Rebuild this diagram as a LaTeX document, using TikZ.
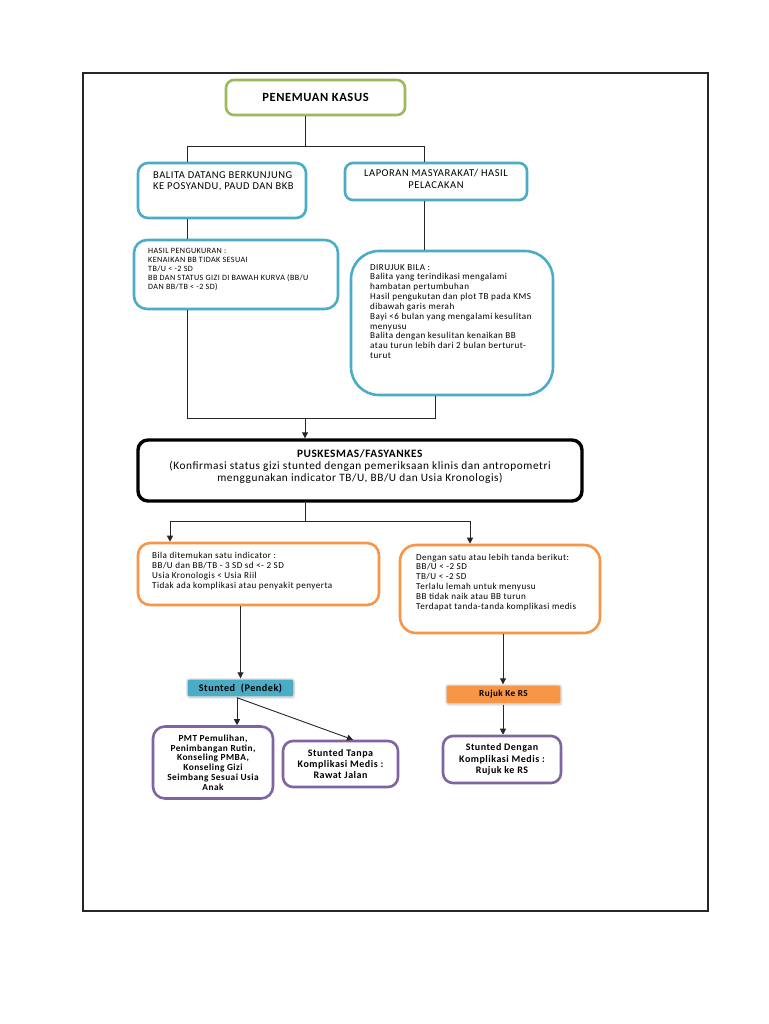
\documentclass[tikz,border=0pt]{standalone}
\usepackage{fontspec}
\setmainfont{Carlito}[LetterSpace=5]
\usetikzlibrary{arrows.meta,shadows}
\definecolor{cgreen}{HTML}{9BBB59}
\definecolor{cblue}{HTML}{4BACC6}
\definecolor{corange}{HTML}{F79646}
\definecolor{cpurple}{HTML}{8064A2}
\newcommand{\fs}[2]{\fontsize{#1}{#2}\selectfont}
\tikzset{
  bx/.style={draw=#1, line width=2.6pt, rounded corners=10pt, inner sep=0pt, align=center},
  txt/.style={inner sep=0pt, align=left, anchor=north west},
  conn/.style={line width=0.9pt, draw=black!85},
  arr/.style={conn, -{Triangle[length=6pt,width=6pt]}},
}
\begin{document}
\begin{tikzpicture}[x=1pt,y=-1pt]
\useasboundingbox (0,0) rectangle (768,1024);
\fill[white] (0,0) rectangle (768,1024);
\node[draw=black!85, line width=1.3pt, minimum width=625pt, minimum height=838pt, inner sep=0pt] (frame) at (395.5,492) {};

% boxes
\node[bx=cgreen, rounded corners=8pt, minimum width=179pt, minimum height=35pt, font=\bfseries\fs{12.5}{14}] (pen) at (315.5,97.5) {PENEMUAN KASUS};
\node[bx=cblue, minimum width=168pt, minimum height=55pt] (bal) at (222,190.5) {};
\node[bx=cblue, rounded corners=8pt, minimum width=182pt, minimum height=37pt] (lap) at (436,181.5) {};
\node[bx=cblue, rounded corners=13pt, minimum width=204pt, minimum height=69pt] (has) at (236,274.5) {};
\node[bx=cblue, rounded corners=28pt, minimum width=202pt, minimum height=144pt] (dir) at (452,323) {};
\node[bx=black, line width=3.4pt, rounded corners=10pt, minimum width=444pt, minimum height=61pt] (pus) at (360,470.5) {};
\node[bx=corange, rounded corners=12pt, minimum width=241pt, minimum height=62pt] (bil) at (258.5,574) {};
\node[bx=corange, rounded corners=16pt, minimum width=200pt, minimum height=88pt] (den) at (500,589) {};
\node[draw=white!75!gray, line width=1.4pt, fill=cblue, rounded corners=2pt, inner sep=0pt, minimum width=107pt, minimum height=18pt,
      drop shadow={shadow xshift=1pt, shadow yshift=-1.5pt, fill=black!25}, font=\bfseries\fs{10.2}{11}] (stu) at (240.5,688) {Stunted\ \ (Pendek)};
\node[draw=white!75!gray, line width=1.4pt, fill=corange, rounded corners=2pt, inner sep=0pt, minimum width=115pt, minimum height=19pt,
      drop shadow={shadow xshift=1pt, shadow yshift=-1.5pt, fill=black!25}, font=\bfseries\fs{9.2}{11}] (ruj) at (503.5,694.5) {Rujuk Ke RS};
\node[bx=cpurple, rounded corners=12pt, minimum width=120pt, minimum height=72pt, font=\bfseries\fs{9.3}{9.8}] (pmt) at (213,762.5)
  {PMT Pemulihan,\\Penimbangan Rutin,\\Konseling PMBA,\\Konseling Gizi\\Seimbang Sesuai Usia\\Anak};
\node[bx=cpurple, rounded corners=10pt, minimum width=115pt, minimum height=46pt, font=\bfseries\fs{10}{11.3}] (tan) at (340.5,764)
  {Stunted Tanpa\\Komplikasi Medis :\\Rawat Jalan};
\node[bx=cpurple, rounded corners=10pt, minimum width=118pt, minimum height=47pt, font=\bfseries\fs{10}{11.2}] (deng) at (502,759.5)
  {Stunted Dengan\\Komplikasi Medis :\\Rujuk ke RS};

% texts
\node[txt, font=\fs{10.5}{11.2}] (tbal) at (153,171) {BALITA DATANG BERKUNJUNG\\KE POSYANDU, PAUD DAN BKB};
\node[txt, anchor=north, align=center, font=\fs{10.5}{11.6}] (tlap) at (436,169) {LAPORAN MASYARAKAT/ HASIL\\PELACAKAN};
\node[txt, font=\fs{8.1}{9.1}] (thas) at (148,248) {HASIL PENGUKURAN :\\KENAIKAN BB TIDAK SESUAI\\TB/U < -2 SD\\BB DAN STATUS GIZI DI BAWAH KURVA (BB/U\\DAN BB/TB < -2 SD)};
\node[txt, font=\fs{9.1}{9.85}] (tdir) at (370,264) {DIRUJUK BILA :\\Balita yang terindikasi mengalami\\hambatan pertumbuhan\\Hasil pengukutan dan plot TB pada KMS\\dibawah garis merah\\Bayi <6 bulan yang mengalami kesulitan\\menyusu\\Balita dengan kesulitan kenaikan BB\\atau turun lebih dari 2 bulan berturut-\\turut};
\node[txt, anchor=north, align=center, font=\fs{11.3}{12}] (tpus) at (360,449.5) {\textbf{PUSKESMAS/FASYANKES}\\(Konfirmasi status gizi stunted dengan pemeriksaan klinis dan antropometri\\menggunakan indicator TB/U, BB/U dan Usia Kronologis)};
\node[txt, font=\fs{9.1}{10}] (tbil) at (152,551.5) {Bila ditemukan satu indicator :\\BB/U dan BB/TB - 3 SD sd <- 2 SD\\Usia Kronologis < Usia Riil\\Tidak ada komplikasi atau penyakit penyerta};
\node[txt, font=\fs{9.1}{9.9}] (tden) at (416,553.5) {Dengan satu atau lebih tanda berikut:\\BB/U < -2 SD\\TB/U < -2 SD\\Terlalu lemah untuk menyusu\\BB tidak naik atau BB turun\\Terdapat tanda-tanda komplikasi medis};

% junction coordinates
\coordinate (j1) at (305,146);
\coordinate (j1l) at (187,146);
\coordinate (j1r) at (424,146);
\coordinate (j2) at (305,418);
\coordinate (j2l) at (187,418);
\coordinate (j2r) at (435,418);
\coordinate (j3) at (305,521);
\coordinate (j3l) at (170,521);
\coordinate (j3r) at (470,521);
\coordinate (s1) at (237,697);
\coordinate (s2) at (353,741);
\coordinate (r1) at (503,0);

% connectors
\draw[conn] (pen.south -| j1) -- (j1);
\draw[conn] (bal.north -| j1l) -- (j1l) -- (j1r) -- (lap.north -| j1r);
\draw[conn] (bal.south -| j1l) -- (has.north -| j1l);
\draw[conn] (lap.south -| j1r) -- (dir.north -| j1r);
\draw[conn] (has.south -| j2l) -- (j2l) -- (j2r) -- (dir.south -| j2r);
\draw[arr] (j2) -- (pus.north -| j2);
\draw[conn] (pus.south -| j3) -- (j3);
\draw[conn] (j3l) -- (j3r);
\draw[arr] (j3l) -- (bil.north -| j3l);
\draw[arr] (j3r) -- (den.north -| j3r);
\draw[arr] (bil.south -| stu.north) -- (stu.north);
\draw[arr] (den.south -| r1) -- (ruj.north -| r1);
\draw[arr] (stu.south -| s1) -- (pmt.north -| s1);
\draw[arr] (stu.south -| s1) -- (tan.north -| s2);
\draw[arr] (ruj.south -| r1) -- (deng.north -| r1);
\end{tikzpicture}
\end{document}
